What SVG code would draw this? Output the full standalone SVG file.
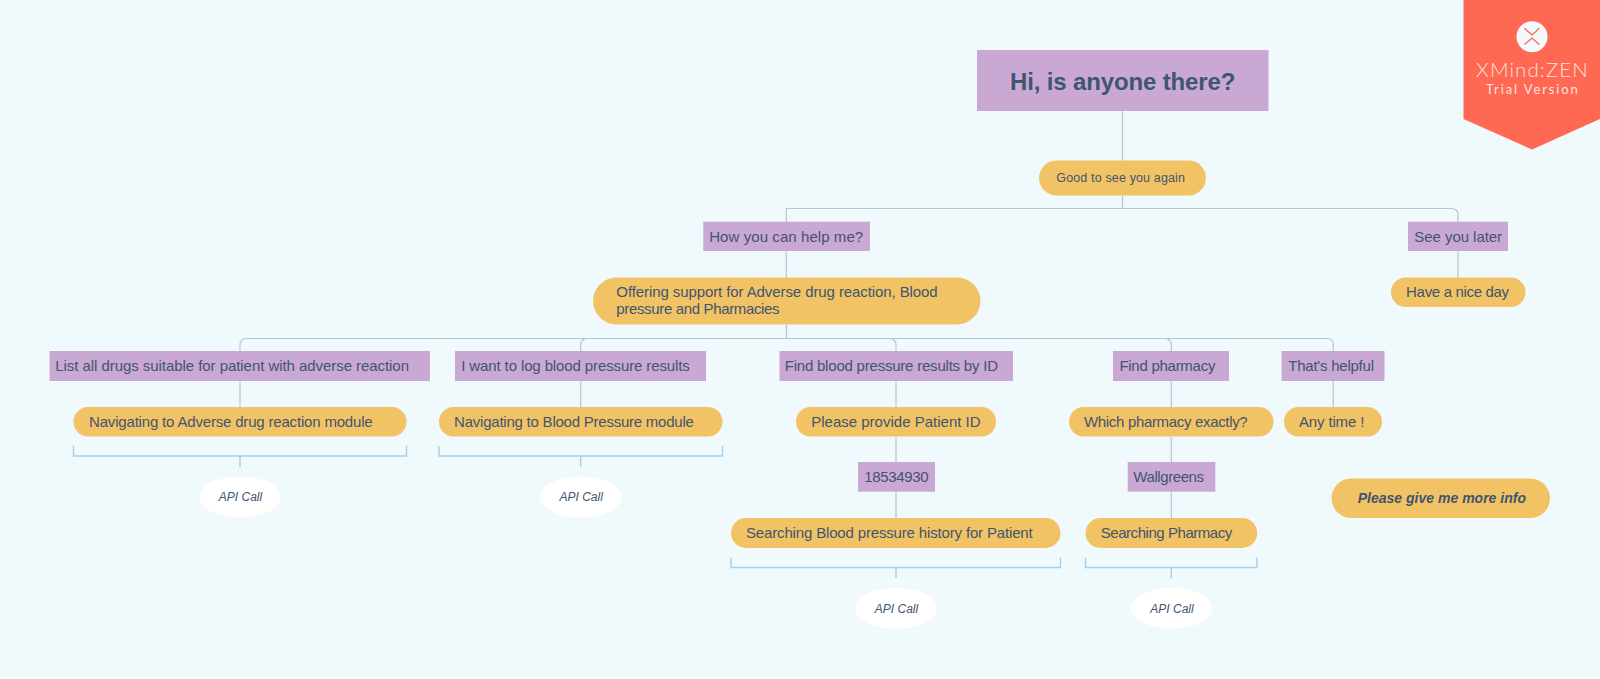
<svg xmlns="http://www.w3.org/2000/svg" width="1600" height="679" viewBox="0 0 1600 679">
<style>
text{font-family:"Liberation Sans",Arial,sans-serif;fill:#3f5570;font-size:15px}
.p{fill:#caa8d4}
.o{fill:#f2c364}
.e{fill:#fff}
.c{fill:none;stroke:#b4c6d6;stroke-width:1.2}
.b{fill:none;stroke:#a3d0ee;stroke-width:1.4}
.i{font-style:italic;font-size:12px;text-anchor:middle}
.w{fill:#fde4df;font-family:Lato,"Liberation Sans",sans-serif;font-weight:300}
</style>
<rect width="1600" height="679" fill="#f0f9fb"/>
<g id="connectors">
<path class="c" d="M1122.500 111V208.500M786.300 222V208.500H1452a6 6 0 0 1 6 6V222"/>
<path class="c" d="M1458 251V278M786.300 251V278"/>
<path class="c" d="M786.500 325V338.500M246 338.500H1327a6 6 0 0 1 6.300 6V351M246 338.500a6 6 0 0 0 -6 6V351M580.700 351V344.500a6 6 0 0 1 6 -6M896 351V344.500a6 6 0 0 0 -6 -6M1171.300 351V344.500a6 6 0 0 0 -6 -6"/>
<path class="c" d="M240 381V407M580.700 381V407M896 381V407M1171.300 381V407M1333.300 381V407"/>
<path class="c" d="M896 437V462M896 492V518M1171.300 437V462M1171.300 492V518"/>
<path class="b" d="M73.500 446V456H406.500V446M240 456V467"/>
<path class="b" d="M439 446V456H722.500V446M580.700 456V467"/>
<path class="b" d="M731 557.500V567.500H1060.500V557.500M896 567.500V578"/>
<path class="b" d="M1085.500 557.500V567.500H1257V557.500M1171.300 567.500V578"/>
</g>
<g id="root"><rect class="p" x="977" y="50" width="291.500" height="61"/><text x="1010" y="89.500" textLength="225.300" style="font-size:24px;font-weight:700">Hi, is anyone there?</text></g>
<g id="good"><rect class="o" x="1039" y="160.500" width="167" height="35" rx="17.500"/><text x="1056.300" y="182" textLength="128.700" style="font-size:12.500px">Good to see you again</text></g>
<g id="help"><rect class="p" x="703.300" y="221.700" width="166.700" height="29.300"/><text x="709.200" y="241.500" textLength="154">How you can help me?</text></g>
<g id="later"><rect class="p" x="1408" y="221.700" width="100" height="29.300"/><text x="1414.300" y="241.500" textLength="87.800">See you later</text></g>
<g id="nice"><rect class="o" x="1391" y="277.500" width="134.500" height="29.500" rx="14.750"/><text x="1406.100" y="297" textLength="103">Have a nice day</text></g>
<g id="offering"><rect class="o" x="593" y="277.500" width="387.500" height="47" rx="23.500"/><text x="616.300" y="296.500" textLength="321.400">Offering support for Adverse drug reaction, Blood</text><text x="616.300" y="314.300" textLength="163.300">pressure and Pharmacies</text></g>
<g id="list"><rect class="p" x="49.500" y="351" width="380.500" height="30"/><text x="55.300" y="371" textLength="353.700">List all drugs suitable for patient with adverse reaction</text></g>
<g id="nav-adr"><rect class="o" x="73.500" y="407" width="333" height="29.500" rx="14.750"/><text x="89" y="427" textLength="283.700">Navigating to Adverse drug reaction module</text></g>
<g id="api1"><ellipse class="e" cx="240" cy="497" rx="41" ry="20.500"/><text class="i" x="240.500" y="501">API Call</text></g>
<g id="log"><rect class="p" x="455" y="351" width="251" height="30"/><text x="461.200" y="371" textLength="228.600">I want to log blood pressure results</text></g>
<g id="nav-bp"><rect class="o" x="439" y="407" width="283.500" height="29.500" rx="14.750"/><text x="454.100" y="427" textLength="239.800">Navigating to Blood Pressure module</text></g>
<g id="api2"><ellipse class="e" cx="580.700" cy="497" rx="41" ry="20.500"/><text class="i" x="581.200" y="501">API Call</text></g>
<g id="find"><rect class="p" x="779.500" y="351" width="233.500" height="30"/><text x="784.700" y="371" textLength="213.300">Find blood pressure results by ID</text></g>
<g id="provide"><rect class="o" x="796" y="407" width="200" height="29.500" rx="14.750"/><text x="811.200" y="427" textLength="169.400">Please provide Patient ID</text></g>
<g id="id"><rect class="p" x="858" y="462" width="77" height="29.700"/><text x="864.300" y="481.500" textLength="64.300">18534930</text></g>
<g id="search-bp"><rect class="o" x="731" y="518" width="329.500" height="30" rx="15"/><text x="746" y="538" textLength="286.700">Searching Blood pressure history for Patient</text></g>
<g id="api3"><ellipse class="e" cx="896" cy="608.300" rx="41" ry="20.500"/><text class="i" x="896.500" y="612.500">API Call</text></g>
<g id="pharm"><rect class="p" x="1113" y="351" width="116" height="30"/><text x="1119.400" y="371" textLength="96">Find pharmacy</text></g>
<g id="which"><rect class="o" x="1069" y="407" width="204.500" height="29.500" rx="14.750"/><text x="1084" y="427" textLength="163.700">Which pharmacy exactly?</text></g>
<g id="wall"><rect class="p" x="1127.700" y="462" width="87.600" height="29.700"/><text x="1133.300" y="481.500" textLength="70.700">Wallgreens</text></g>
<g id="search-ph"><rect class="o" x="1085.500" y="518" width="171.700" height="30" rx="15"/><text x="1100.700" y="538" textLength="131.600">Searching Pharmacy</text></g>
<g id="api4"><ellipse class="e" cx="1171.500" cy="608.300" rx="41" ry="20.500"/><text class="i" x="1172" y="612.500">API Call</text></g>
<g id="helpful"><rect class="p" x="1281.500" y="351" width="103" height="30"/><text x="1288.300" y="371" textLength="85.700">That's helpful</text></g>
<g id="any"><rect class="o" x="1284" y="407" width="98" height="29.500" rx="14.750"/><text x="1299" y="427" textLength="65.300">Any time !</text></g>
<g id="more"><rect class="o" x="1331.500" y="478.500" width="218.500" height="39.500" rx="19.750"/><text x="1357.700" y="503" textLength="168.300" style="font-style:italic;font-weight:700;font-size:14px">Please give me more info</text></g>
<g id="watermark"><path d="M1463.500 0H1600V119L1532 149.500L1463.500 119Z" fill="#ff6853"/><circle cx="1532" cy="36.700" r="15.500" fill="#f4fafb"/><path d="M1524.300 28.300L1532 35L1539.300 28.300M1524.300 44.500L1532 38L1539.300 44.500" fill="none" stroke="#ff6853" stroke-width="1.300"/><text class="w" x="1476" y="76.700" textLength="111.700" style="font-size:20.500px">XMind:ZEN</text><text class="w" x="1486" y="94.300" textLength="91.700" style="font-size:13px;font-weight:400">Trial Version</text></g>
</svg>
